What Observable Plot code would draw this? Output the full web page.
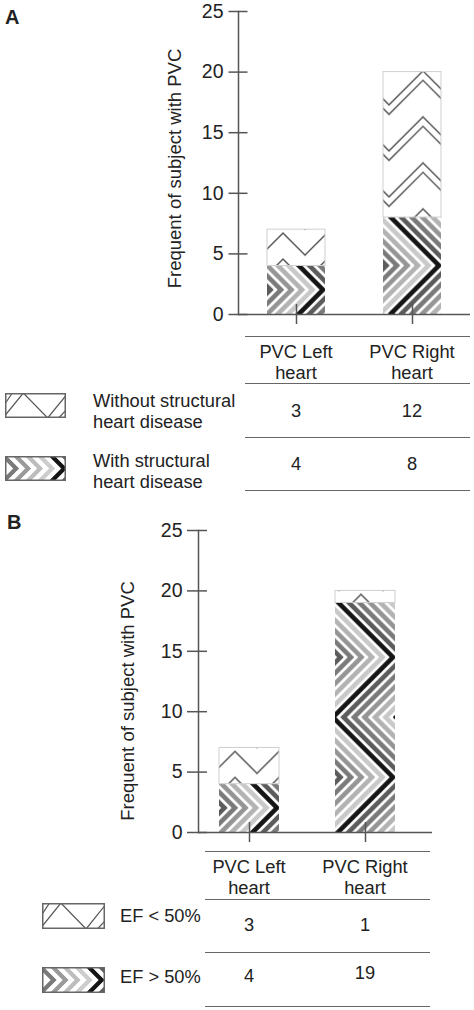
<!DOCTYPE html>
<html><head><meta charset="utf-8">
<script src="https://cdn.jsdelivr.net/npm/d3@7"></script>
<script src="https://cdn.jsdelivr.net/npm/@observablehq/plot@0.6"></script>
<style>
body{margin:0;background:#fff;font-family:"Liberation Sans",Arial,Helvetica,sans-serif;color:#222}
#root{position:relative;width:474px;height:1010px;overflow:hidden;background:#fff}
.abs{position:absolute;left:0}
.t{position:absolute;font-size:18.3px;line-height:21px;white-space:nowrap}
.c{transform:translateX(-50%);text-align:center}
.hl{position:absolute;height:0;border-top:1.5px solid #666}
.letter{position:absolute;font-weight:bold;font-size:20px;line-height:20px}
</style></head>
<body><div id="root"></div>
<script>
// ---- data ----
const categories = ["PVC Left heart", "PVC Right heart"];
const headerLines = [["PVC Left", "heart"], ["PVC Right", "heart"]];
const yTicks = [0, 5, 10, 15, 20, 25];
const yLabel = "Frequent of subject with PVC";
const seriesALabels = [["Without structural", "heart disease"], ["With structural", "heart disease"]];
const withoutA = [3, 12];
const withA = [4, 8];
const seriesBLabels = [["EF < 50%"], ["EF > 50%"]];
const efLowB = [3, 1];
const efHighB = [4, 19];

const FONT = '"Liberation Sans", Arial, Helvetica, sans-serif';
const root = document.getElementById("root");
const chevColors = ["#151515", "#c9c9c9", "#b3b3b3", "#959595", "#7a7a7a", "#5c5c5c"];

function chevPattern(defs, id, x0, y0, bw, A, phase) {
  const h = 10.5;
  const p = defs.append("pattern").attr("id", id).attr("patternUnits", "userSpaceOnUse")
    .attr("x", x0).attr("y", y0 - phase * A).attr("width", bw * 2).attr("height", 2 * A);
  p.append("rect").attr("width", bw * 2).attr("height", 2 * A).attr("fill", "#fff");
  const kMin = Math.floor(-(A + 4) / h) - 1, kMax = Math.ceil(bw / h) + 1;
  for (let k = kMin; k <= kMax; k++) {
    const xr = bw - 2 - k * h;
    const pts = [[xr - A, -A], [xr, 0], [xr - A, A], [xr, 2 * A], [xr - A, 3 * A]];
    p.append("path").attr("d", "M" + pts.map(q => q.join(",")).join("L"))
      .attr("fill", "none").attr("stroke-linejoin", "miter")
      .attr("stroke", chevColors[((k % chevColors.length) + chevColors.length) % chevColors.length])
      .attr("stroke-width", 4.6);
  }
}

function zigPattern(defs, id, x0, y0, z) {
  const {q, V, outline} = z;
  const p = defs.append("pattern").attr("id", id).attr("patternUnits", "userSpaceOnUse")
    .attr("x", x0 + (z.xoff || 0)).attr("y", y0).attr("width", 2 * q).attr("height", V);
  p.append("rect").attr("width", 2 * q).attr("height", V).attr("fill", "#fff");
  for (let r = -2; r <= 2; r++) {
    const pts = [];
    for (let j = -1; j <= 3; j++) pts.push([j * q, r * V + (j % 2 === 0 ? q : 0) + 4]);
    const d = "M" + pts.map(s => s.join(",")).join("L");
    if (outline) {
      p.append("path").attr("d", d).attr("fill", "none").attr("stroke", "#4a4a4a").attr("stroke-width", 8);
      p.append("path").attr("d", d).attr("fill", "none").attr("stroke", "#fff").attr("stroke-width", 5.4);
    } else {
      p.append("path").attr("d", d).attr("fill", "none").attr("stroke", "#4a4a4a").attr("stroke-width", 1.3);
    }
  }
}

function div(cls, style, html) {
  const e = document.createElement("div");
  e.className = cls;
  Object.assign(e.style, style);
  if (html != null) e.innerHTML = html;
  root.appendChild(e);
  return e;
}

function swatch(kind, left, top, w, h) {
  const s = d3.create("svg").attr("width", w).attr("height", h)
    .style("position", "absolute").style("left", left + "px").style("top", top + "px");
  s.append("rect").attr("width", w).attr("height", h).attr("fill", "#fff");
  if (kind === "chev") {
    const cols = ["#7a7a7a", "#fff", "#9a9a9a", "#fff", "#bdbdbd", "#fff", "#cdcdcd", "#fff", "#151515", "#fff", "#5c5c5c"];
    for (let k = 0; k < cols.length; k++) {
      const x = -4 + k * 6;
      s.append("path").attr("d", `M${x},-3L${x + h / 2 + 3},${h / 2}L${x},${h + 3}`)
        .attr("fill", "none").attr("stroke", cols[k]).attr("stroke-width", 4.6);
    }
  } else {
    s.append("path").attr("d", `M-2,${h}L${w * 0.3},0L${w * 0.7},${h}L${w + 4},${-h * 0.1}`)
      .attr("fill", "none").attr("stroke", "#555").attr("stroke-width", 1.2);
    s.append("path").attr("d", `M-2,${h * 0.55}L${w * 0.12},0`)
      .attr("fill", "none").attr("stroke", "#555").attr("stroke-width", 1.2);
    s.append("path").attr("d", `M${w * 0.88},${h}L${w + 2},${h * 0.6}`)
      .attr("fill", "none").attr("stroke", "#555").attr("stroke-width", 1.2);
  }
  s.append("rect").attr("x", 0.75).attr("y", 0.75).attr("width", w - 1.5).attr("height", h - 1.5)
    .attr("fill", "none").attr("stroke", "#666").attr("stroke-width", 1.5);
  root.appendChild(s.node());
}

function drawPanel(cfg) {
  const rows = categories.map((c, i) => ({cat: c, low: cfg.bottomVals[i], up: cfg.topVals[i], i}));
  const marks = [];
  rows.forEach(r => {
    marks.push(Plot.barY([r], {x: "cat", y: "low", fill: `url(#${cfg.id}-c${r.i})`}));
    marks.push(Plot.barY([r], {x: "cat", y1: "low", y2: d => d.low + d.up,
      fill: `url(#${cfg.id}-z${r.i})`, stroke: "#cfcfcf", strokeWidth: 1}));
  });
  marks.push(
    Plot.frame({anchor: "left", stroke: "#555", strokeWidth: 1.5}),
    Plot.ruleY([0], {stroke: "#555", strokeWidth: 1.5}),
    Plot.axisY({ticks: yTicks, tickSize: cfg.tickSize, dx: cfg.tickDx, tickFormat: () => "", label: null, stroke: "#555", strokeWidth: 1.5}),
    Plot.axisY({ticks: yTicks, tickSize: 0, tickPadding: cfg.tickPad, label: null, fontSize: 19.5, fill: "#222"}),
    Plot.axisX({tickSize: 20, dy: -10, tickFormat: () => "", label: null, stroke: "#555", strokeWidth: 1.5}),
    Plot.text([yLabel], {text: d => d, frameAnchor: "left", textAnchor: "middle", lineAnchor: "middle",
      rotate: -90, dx: cfg.labelDx, dy: cfg.labelDy, fontSize: 18.5, fill: "#222"})
  );
  const svg = Plot.plot({
    width: 474, height: cfg.height,
    marginTop: cfg.mt, marginBottom: cfg.mb, marginLeft: cfg.ml, marginRight: cfg.mr,
    style: {fontFamily: FONT, fontSize: "18px", color: "#222", background: "transparent", overflow: "visible"},
    x: {domain: categories, paddingInner: cfg.padIn, paddingOuter: cfg.padOut, align: cfg.align, axis: null},
    y: {domain: [0, 25], axis: null},
    marks
  });
  const wrap = div("abs", {top: cfg.top + "px"});
  wrap.appendChild(svg);
  const xs = svg.scale("x"), ys = svg.scale("y");
  const bw = xs.bandwidth;
  const defs = d3.select(svg).insert("defs", ":first-child");
  rows.forEach(r => {
    const x0 = xs.apply(r.cat);
    const yMid = (ys.apply(0) + ys.apply(r.low)) / 2;
    chevPattern(defs, `${cfg.id}-c${r.i}`, x0, yMid, bw, cfg.chevA[r.i], cfg.chevPhase[r.i]);
    zigPattern(defs, `${cfg.id}-z${r.i}`, x0, ys.apply(r.low + r.up), cfg.zig[r.i]);
  });
  // table
  const colX = categories.map(c => xs.apply(c) + bw / 2);
  cfg.lines.forEach(y => div("hl", {top: y + "px", left: cfg.lineX[0] + "px", width: (cfg.lineX[1] - cfg.lineX[0]) + "px"}));
  categories.forEach((c, i) => {
    div("t c", {left: colX[i] + "px", top: cfg.headTop + "px"}, headerLines[i].join("<br>"));
    div("t c", {left: colX[i] + "px", top: cfg.valTops[0][i] + "px"}, String(cfg.topVals[i]));
    div("t c", {left: colX[i] + "px", top: cfg.valTops[1][i] + "px"}, String(cfg.bottomVals[i]));
  });
  // legend
  cfg.legend.forEach((lines, j) => {
    swatch(j === 0 ? "zig" : "chev", cfg.swX, cfg.swTops[j], cfg.swW, cfg.swH);
    div("t", {left: cfg.legX + "px", top: cfg.legTops[j] + "px"}, lines.join("<br>"));
  });
  div("letter", {left: cfg.letterPos[0] + "px", top: cfg.letterPos[1] + "px"}, cfg.letter);
}

drawPanel({
  id: "pa", letter: "A", letterPos: [5, 7], top: 0, height: 340,
  mt: 11, mb: 26, ml: 238, mr: 4, padIn: 0.496, padOut: 0.24, align: 0.5,
  tickSize: 19, tickDx: 9.5, tickPad: 15, labelDx: -63, labelDy: 5.5,
  topVals: withoutA, bottomVals: withA,
  chevA: [26, 48], chevPhase: [0, 0],
  zig: [{q: 22, V: 26, outline: false, xoff: -6}, {q: 34, V: 46, outline: true, xoff: 6}],
  lines: [336, 383, 437, 490], lineX: [245, 470],
  headTop: 341, valTops: [[400, 400], [453, 453]],
  legend: seriesALabels, swX: 5, swTops: [393, 456], swW: 61, swH: 25, legX: 93, legTops: [390, 450]
});

drawPanel({
  id: "pb", letter: "B", letterPos: [7, 512], top: 500, height: 350,
  mt: 30, mb: 18, ml: 198, mr: 42, padIn: 0.483, padOut: 0.25, align: 0.36,
  tickSize: 20, tickDx: 9, tickPad: 16, labelDx: -70, labelDy: 19.5,
  topVals: efLowB, bottomVals: efHighB,
  chevA: [26, 60], chevPhase: [0, 1],
  zig: [{q: 22, V: 26, outline: false, xoff: -6}, {q: 22, V: 26, outline: false, xoff: 4}],
  lines: [851, 899, 952, 1006], lineX: [205, 430],
  headTop: 856, valTops: [[914, 914], [965, 962]],
  legend: seriesBLabels, swX: 42, swTops: [903, 967], swW: 63, swH: 26, legX: 120, legTops: [905, 966]
});
</script>
</body></html>
